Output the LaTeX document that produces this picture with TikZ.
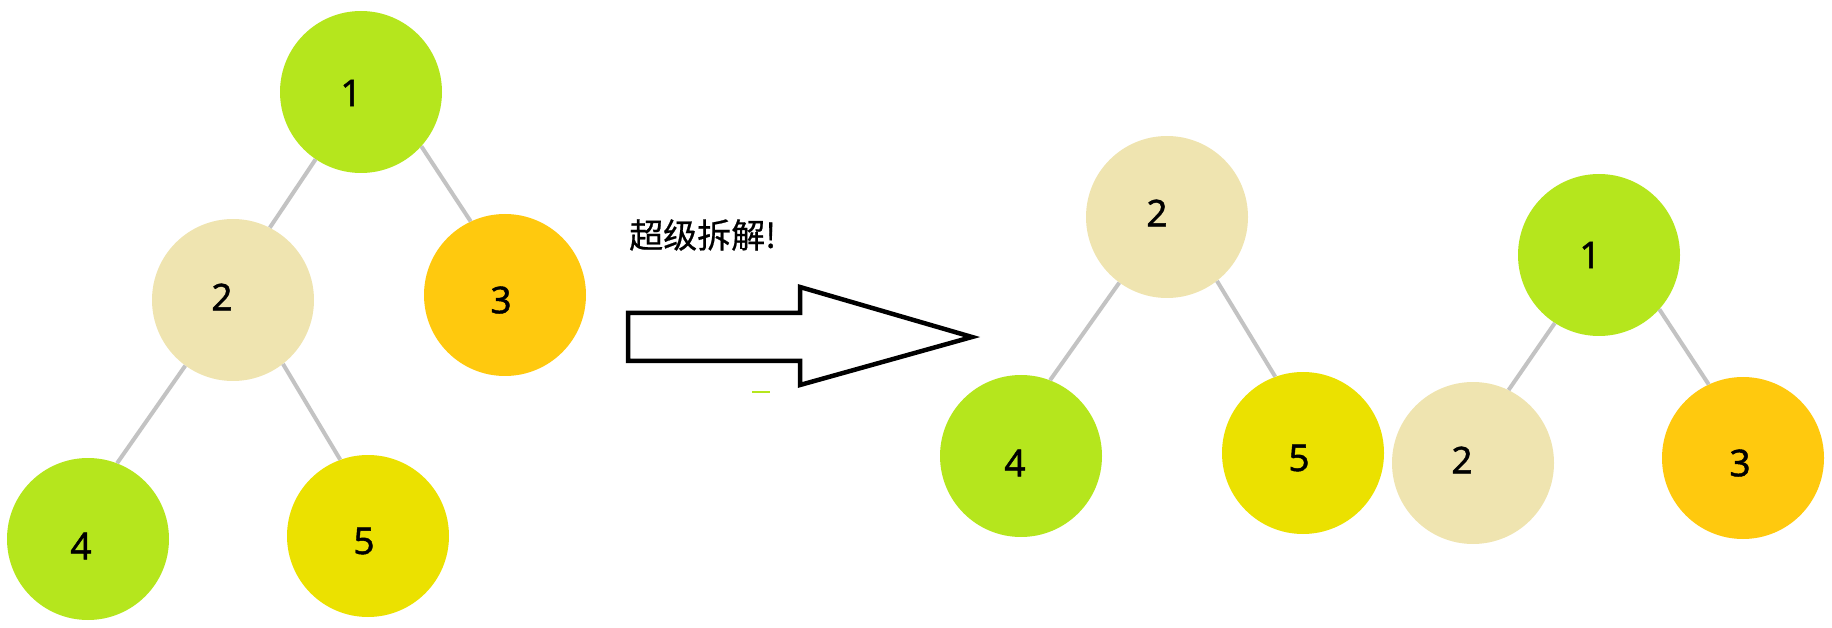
\documentclass[tikz,border=0pt]{standalone}
\usepackage{fontspec}
\setmainfont{Noto Sans CJK SC}[FakeBold=0.6]
\newfontfamily\digitfont{Noto Sans}[FakeBold=1.2]
\definecolor{cgreen}{RGB}{181,230,29}
\definecolor{cbeige}{RGB}{239,228,176}
\definecolor{corange}{RGB}{255,201,14}
\definecolor{cyellow}{RGB}{235,225,0}
\definecolor{cgray}{RGB}{195,195,195}
\begin{document}
\begin{tikzpicture}[x=1pt,y=-1pt,
  ball/.style={circle,minimum size=162pt,inner sep=0pt,draw=none},
  num/.style={inner sep=0pt,font=\digitfont\fontsize{37}{37}\selectfont},
  edge/.style={draw=cgray,line width=4pt}]
\useasboundingbox (0,0) rectangle (1832,628);
% left tree
\node[ball,fill=cgreen]  (a1) at (361,92) {};
\node[ball,fill=cbeige]  (a2) at (233,300) {};
\node[ball,fill=corange] (a3) at (505,295) {};
\node[ball,fill=cgreen]  (a4) at (88,539) {};
\node[ball,fill=cyellow] (a5) at (368,536) {};
\draw[edge] (a1.236) -- (a2.63);
\draw[edge] (a1.318) -- (a3.115);
\draw[edge] (a2.234) -- (a4.69);
\draw[edge] (a2.308) -- (a5.110);
\node[num] (ta1) at (351,93) {1};
\node[num] (ta2) at (222,297) {2};
\node[num] (ta3) at (501,300) {3};
\node[num] (ta4) at (81,546) {4};
\node[num] (ta5) at (364,541) {5};
% title and arrow
\node[inner sep=0pt,anchor=west,font=\fontsize{34}{34}\selectfont] (title) at (629,235) {超级拆解!};
\draw[line width=4.5pt,miter limit=20] (628,313) -- (800,313) -- (800,287) -- (972,337)
  -- (800,385) -- (800,361) -- (628,361) -- cycle;
\coordinate (g1) at (752,392);
\coordinate (g2) at (770,392);
\draw[cgreen,line width=1.5pt] (g1) -- (g2);
% right trees
\node[ball,fill=cbeige]  (b2) at (1167,217) {};
\node[ball,fill=cgreen]  (b4) at (1021,456) {};
\node[ball,fill=cyellow] (b5) at (1303,453) {};
\draw[edge] (b2.234) -- (b4.69);
\draw[edge] (b2.308) -- (b5.110);
\node[ball,fill=cgreen]  (c1) at (1599,255) {};
\node[ball,fill=cbeige]  (c2) at (1473,463) {};
\node[ball,fill=corange] (c3) at (1743,458) {};
\draw[edge] (c1.237) -- (c2.64);
\draw[edge] (c1.318) -- (c3.115);
\node[num] (tb2) at (1157,213) {2};
\node[num] (tb4) at (1015,463) {4};
\node[num] (tb5) at (1299,458) {5};
\node[num] (tc1) at (1590,255) {1};
\node[num] (tc2) at (1462,460) {2};
\node[num] (tc3) at (1740,463) {3};
\end{tikzpicture}
\end{document}
